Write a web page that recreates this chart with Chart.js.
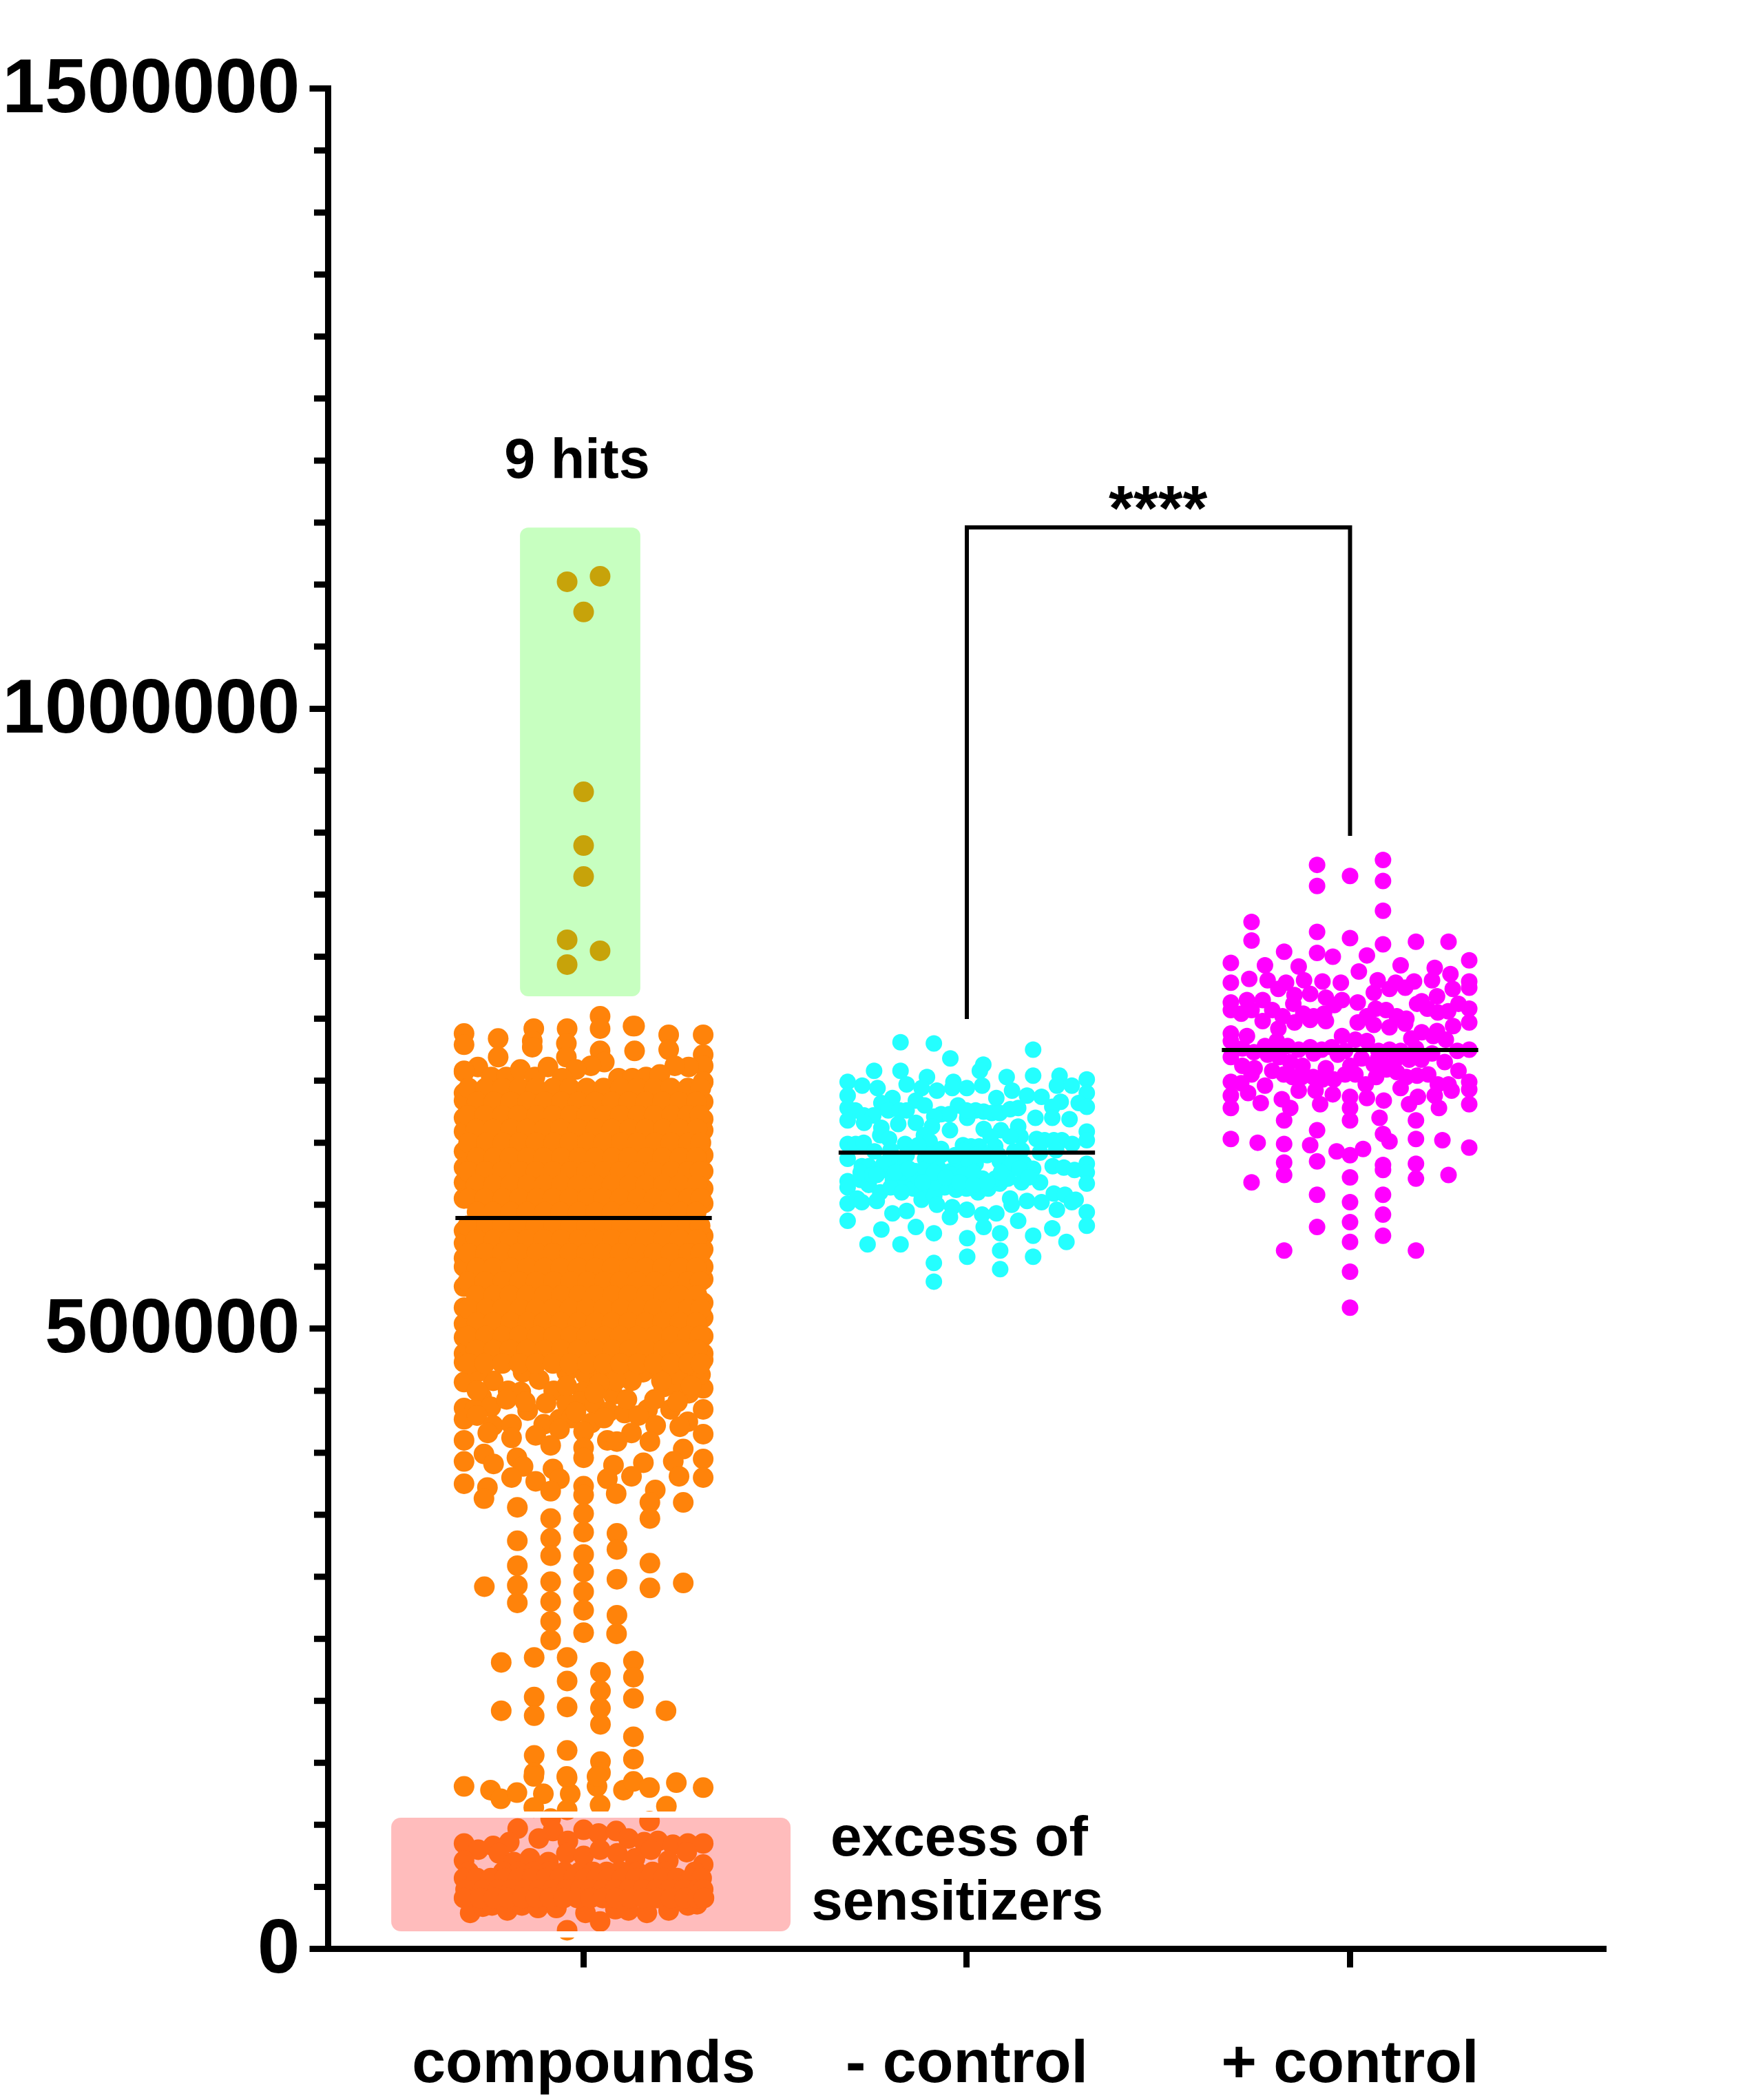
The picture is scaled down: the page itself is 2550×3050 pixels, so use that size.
<!DOCTYPE html>
<html>
<head>
<meta charset="utf-8">
<style>
  html, body { margin: 0; padding: 0; background: #ffffff; }
  canvas { display: block; }
</style>
<script src="https://cdn.jsdelivr.net/npm/chart.js@4/dist/chart.umd.min.js"></script>
</head>
<body>
<canvas id="chart" width="2550" height="3050"></canvas>
<script>
const categories = ['compounds', '- control', '+ control'];
const yTicks = [0, 500000, 1000000, 1500000];
const minorTicks = [50000, 100000, 150000, 200000, 250000, 300000, 350000, 400000, 450000, 550000, 600000, 650000, 700000, 750000, 800000, 850000, 900000, 950000, 1050000, 1100000, 1150000, 1200000, 1250000, 1300000, 1350000, 1400000, 1450000];
const means = [589300, 642000, 724700];
const bracketValues = [749700, 1146100, 1146100, 897400];

// swarm offsets are in thousandths of a category step
const hitOffsets = [-43, 43, 0, 0, 0, 0, -43, -43, 43];
const hitValues = [1102300, 1106700, 1077900, 932900, 889600, 864600, 813600, 793600, 804700];

const compoundOffsets = [
  -312,-312,-223,-223,-130,-134,-134,-43,-45,-45,43,43,43,54,19,129,133,133,222,222,312,312,312,274,238,-312,-276,-241,-202,-165,-127,-93,-20,-56,91,127,163,199,312,
  -312,-312,-312,-312,-312,-312,-312,-312,-312,-312,-312,-312,-312,-312,-312,-312,-312,
  312,312,312,312,312,312,312,312,312,312,312,312,312,312,312,
  -312,-312,312,312,-312,-236,312,-158,-116,-44,5,53,100,197,281,155,-266,-197,-164,-78,-2,77,209,245,275,-8,-312,-284,-242,-201,-146,-98,-44,29,65,107,167,227,-312,-278,-236,-188,-104,-63,-32,20,143,188,312,272,251,
  -250,-188,-125,-63,0,125,312,-312,-86,62,87,173,0,260,-260,-312,-174,-235,0,-158,-80,78,156,234,312,-188,-125,-63,62,125,249,312,-312,-251,-86,0,0,85,187,-260,173,260,-173,0,-86,173,0,87,-173,-86,87,-86,0,173,-173,0,87,-86,-259,-173,173,260,0,-86,-173,0,87,-86,
  -86,0,86,-215,-129,-43,44,130,130,-43,44,130,-129,-215,-129,-43,44,215,44,130,-129,-43,44,-129,-43,44,130,
  -312,-243,-216,-174,-105,-130,-35,-44,35,43,-130,-43,35,104,130,172,242,312,216,-86,172,
  -172,-312,-275,-236,-194,-117,-80,-41,0,39,85,117,158,194,233,272,312,-312,-221,-182,-140,-92,-45,0,43,88,134,176,269,221,200,86,312,
  -296,-263,-239,-199,-161,-119,-71,5,43,83,117,165,222,272,296,-43,
  -278,245,305,125,83,41,-44,203,281,245,185,113,29,-278,-152,53,-20
];
const compoundValues = [
  738000,729000,734000,719000,742000,732000,727000,742000,730000,719000,752000,742000,724000,715000,712000,744000,744000,724000,737000,725000,737000,721000,712000,711000,712000,707000,711000,703000,703000,709000,703000,711000,709000,702000,702000,702000,703000,705000,699000,
  708000,690000,684000,670000,659000,643000,630000,618000,605000,579000,569000,557000,550000,534000,517000,504000,493000,
  699000,683000,669000,660000,640000,627000,613000,601000,575000,564000,550000,540000,521000,509000,494000,
  480000,473000,480000,475000,457000,458000,452000,465000,459000,465000,463000,465000,467000,465000,465000,465000,445000,450000,449000,450000,449000,447000,453000,452000,448000,441000,436000,435000,437000,443000,434000,440000,440000,439000,433000,432000,435000,435000,427000,430000,422000,423000,423000,427000,428000,424000,430000,422000,435000,425000,421000,
  416000,412000,414000,419000,417000,416000,415000,410000,406000,410000,409000,409000,404000,403000,399000,393000,396000,391000,396000,389000,387000,390000,392000,393000,395000,380000,377000,379000,379000,381000,381000,380000,375000,372000,369000,373000,366000,367000,370000,363000,360000,360000,356000,351000,347000,347000,336000,335000,329000,331000,322000,317000,318000,311000,309000,304000,298000,296000,292000,293000,291000,295000,288000,280000,279000,273000,269000,264000,
  249000,255000,254000,231000,235000,235000,223000,232000,219000,216000,208000,202000,203000,192000,188000,195000,194000,192000,181000,171000,156000,160000,151000,142000,138000,142000,153000,
  131000,128000,121000,126000,125000,139000,125000,139000,131000,116000,114000,112000,139000,128000,135000,130000,134000,130000,115000,105000,103000,
  97000,85000,80000,83000,86000,89000,95000,87000,96000,93000,95000,89000,86000,87000,84000,85000,85000,71000,77000,70000,73000,70000,77000,75000,80000,77000,73000,80000,78000,71000,61000,61000,68000,
  29000,34000,35000,31000,35000,33000,33000,29000,22000,32000,31000,29000,31000,35000,36000,15000,
  465000,463000,463000,458000,458000,456000,454000,458000,454000,441000,443000,443000,448000,450000,441000,428000,433000
];

// the solid parts of the compounds swarm, row by row
const compoundRowValues = [694000,683000,672000,661000,650000,638000,627000,616000,605000,594000,583000,572000,561000,549000,538000,527000,516000,505000,494000,483000,472000,62000,57000,48000,41000];
const compoundRowOffsets = [
  [-300,-256,-212,-168,-124,-80,-36,8,52,96,140,184,228,272,306],
  [-278,-234,-190,-146,-102,-58,-14,30,74,118,162,206,250,294],
  [-302,-258,-212,-170,-122,-80,-34,8,54,96,142,184,230,272,304],
  [-280,-236,-190,-148,-102,-60,-14,32,74,120,162,208,250,296],
  [-300,-254,-210,-168,-124,-78,-36,10,52,98,140,186,228,274,306],
  [-278,-234,-192,-146,-104,-58,-12,30,76,118,164,206,252,294],
  [-302,-256,-212,-166,-124,-80,-34,8,54,96,140,184,230,272,304],
  [-280,-234,-190,-146,-102,-58,-14,30,74,120,162,208,250,296],
  [-300,-258,-210,-168,-122,-80,-36,10,52,96,142,184,228,274,306],
  [-278,-236,-190,-148,-102,-60,-14,32,74,118,164,206,252,294],
  [-302,-254,-212,-168,-124,-78,-34,8,54,98,140,186,230,272,304],
  [-280,-234,-192,-146,-104,-58,-12,30,76,118,162,208,250,296],
  [-300,-256,-212,-170,-122,-80,-36,8,52,96,142,184,228,274,306],
  [-278,-236,-190,-146,-102,-60,-14,32,74,120,162,206,252,294],
  [-302,-258,-210,-168,-124,-78,-34,10,54,96,140,186,230,272,304],
  [-280,-234,-192,-148,-102,-58,-12,30,76,118,164,208,250,296],
  [-300,-254,-212,-166,-124,-80,-36,8,52,98,142,184,228,274,306],
  [-278,-236,-190,-146,-104,-60,-14,32,74,118,162,206,252,294],
  [-302,-256,-210,-168,-122,-78,-34,8,54,96,140,186,230,272,304],
  [-280,-234,-192,-148,-102,-58,-14,30,76,120,164,208,250,296],
  [-300,-258,-212,-168,-124,-80,-36,10,52,96,142,184,228,274,306],
  [-300,-210,-170,-130,-90,-50,-10,25,60,100,140,180,215,290],
  [-312,-278,-242,-206,-170,-134,-98,-62,-26,4,34,64,100,136,172,208,244,280,308],
  [-308,-262,-224,-188,-152,-116,-80,-44,-8,20,50,82,118,154,190,226,262,298,312],
  [-312,-270,-234,-198,-160,-124,-88,-52,-16,18,50,84,120,156,192,228,264,296,314]
];

const negControlOffsets = [
  -173,-86,-43,173,43,34,-242,-173,-104,-35,104,173,242,313,-311,-273,-233,-157,-118,-78,-38,0,40,118,235,274,313,-311,-194,77,157,195,245,-133,-223,-311,-291,-110,-23,292,313,223,23,44,65,86,113,134,-205,-175,-157,-268,-244,-67,-46,-85,1,-1,179,223,268,-311,-268,-179,-133,-223,44,134,-44,89,313,-91,-226,-203,-112,62,140,113,182,203,227,248,275,313,-311,-290,-269,-241,-161,-97,-67,-10,11,32,74,124,191,233,
  -311,-274,-256,-223,-175,-133,-103,-73,-43,-13,23,86,113,161,224,253,281,313,313,-311,-311,-277,-256,-193,-163,-139,-115,-58,-28,-1,29,56,86,74,41,11,107,143,191,227,256,284,313,113,157,195,-226,-199,-170,-311,-286,-274,-235,-118,-85,-78,-38,-44,0,40,77,274,235,117,-194,-157,-311,-223,-133,-86,44,134,223,313,313,87,1,173,-259,-173,260,87,1,173,-86,87,-86,
  -67,-31,5,53,-199,-157,-109,-79,-37,-7,17,149,173,-277,-247,-199,-169,-127,-85,89,
  -109,-85,-55,-19,17,53,137,161,-217,-187,-151,-115,-235,-97,-31,-7,23,83,143,-127,-199
];
const negControlValues = [
  731000,730000,718000,725000,713000,708000,708000,708000,703000,699000,703000,704000,704000,701000,699000,696000,694000,697000,694000,692000,694000,694000,696000,692000,696000,696000,690000,688000,686000,686000,688000,687000,683000,684000,682000,678000,676000,680000,680000,682000,679000,679000,676000,675000,674000,674000,677000,678000,676000,676000,676000,672000,672000,673000,673000,671000,670000,676000,670000,670000,669000,668000,666000,665000,666000,662000,661000,663000,660000,660000,659000,663000,656000,653000,656000,655000,655000,655000,653000,652000,652000,652000,649000,652000,649000,649000,650000,643000,649000,651000,645000,648000,647000,647000,647000,643000,642000,644000,
  637000,631000,631000,628000,633000,627000,624000,629000,627000,631000,633000,635000,633000,627000,631000,630000,628000,633000,626000,619000,614000,620000,616000,620000,618000,613000,611000,614000,612000,613000,610000,613000,617000,621000,621000,620000,621000,618000,618000,609000,608000,604000,617000,605000,603000,602000,610000,614000,610000,601000,605000,602000,603000,604000,607000,600000,598000,590000,596000,592000,593000,602000,596000,600000,593000,595000,587000,580000,582000,577000,582000,587000,581000,594000,583000,577000,573000,575000,568000,568000,570000,563000,558000,558000,553000,548000,538000,
  640000,638000,635000,640000,639000,640000,637000,635000,624000,624000,626000,633000,629000,626000,624000,626000,626000,622000,618000,626000,
  629000,626000,622000,618000,616000,618000,629000,622000,633000,626000,629000,618000,624000,640000,640000,644000,640000,640000,644000,648000,644000
];

const posControlOffsets = [
  -86,0,86,-86,86,86,-257,-257,-86,0,86,172,257,-172,-86,-45,44,-311,-222,-134,23,132,221,311,262,-311,-263,-215,-167,-120,-72,-24,72,119,167,214,311,311,-187,-145,-104,62,103,144,268,-63,227,-311,-269,-228,-148,-21,20,-41,175,187,283,-311,-284,-257,-203,-176,-122,-95,-68,67,94,122,147,202,229,256,311,
  -228,-145,-104,-63,20,44,62,103,144,311,-187,269,187,227,-311,-269,-21,-311,-191,14,44,160,250,217,-281,-251,-222,-215,-163,-134,-104,-95,-74,-48,-32,-13,74,103,132,172,214,280,311,-311,-185,30,72,122,154,186,247,-281,-249,-156,-124,-63,1,62,89,-203,283,-173,-150,-126,14,-13,-96,-72,-42,95,122,147,175,204,68,-257,
  -311,-284,-222,-134,-90,41,132,229,257,265,311,311,-311,-266,-45,44,177,221,0,-178,88,-78,-233,154,-311,-156,0,232,311,77,-172,0,172,-86,86,-311,103,-172,-241,172,241,-104,-35,34,311,0,-86,-172,86,172,-172,86,257,172,0,-257,86,-86,0,86,0,-86,86,0,-172,172,0,0
];
const posControlValues = [
  874000,865000,878000,857000,861000,837000,828000,813000,820000,815000,810000,812000,812000,804000,803000,800000,801000,795000,793000,792000,788000,793000,791000,797000,786000,779000,782000,781000,779000,781000,780000,779000,781000,779000,780000,781000,780000,775000,774000,769000,770000,771000,774000,775000,774000,767000,768000,763000,765000,765000,762000,765000,763000,761000,762000,764000,762000,757000,754000,757000,757000,752000,754000,752000,754000,758000,757000,752000,750000,758000,755000,756000,758000,
  748000,747000,749000,748000,747000,752000,745000,743000,746000,747000,742000,744000,739000,740000,738000,736000,736000,732000,732000,733000,732000,734000,733000,736000,726000,723000,728000,721000,728000,725000,727000,722000,725000,727000,721000,724000,724000,725000,724000,726000,722000,724000,725000,719000,719000,718000,717000,718000,717000,717000,715000,712000,710000,715000,712000,710000,712000,713000,713000,708000,708000,705000,703000,703000,705000,705000,703000,701000,701000,709000,707000,703000,704000,705000,703000,705000,
  699000,698000,696000,692000,692000,697000,694000,697000,697000,692000,699000,693000,688000,690000,689000,686000,687000,688000,687000,685000,684000,681000,682000,681000,678000,678000,678000,678000,681000,670000,668000,668000,668000,660000,657000,653000,651000,649000,650000,653000,652000,648000,643000,645000,646000,640000,635000,634000,632000,633000,624000,628000,624000,621000,622000,618000,608000,608000,602000,592000,586000,582000,575000,570000,563000,563000,546000,517000
];

// shaded boxes, in axis units
const hitBox = { x0: 0.834, x1: 1.148, y0: 768000, y1: 1146000 };
const sensitizerBox = { x0: 0.498, x1: 1.54, y0: 14150, y1: 105750 };
const noteTexts = ['9 hits', 'excess of', 'sensitizers', '****'];
const noteX = [0.983, 1.98, 1.975, 2.499];
const noteY = [1186100, 75200, 23600, 1143900];

const FONT = '"Liberation Sans", Arial, sans-serif';
const ORANGE = '#ff830a';
const CYAN = '#24ffff';
const MAGENTA = '#ff00ff';

function swarm(center, offsets, values) {
  return values.map((v, i) => ({ x: center + offsets[i] / 1000, y: v }));
}

function compoundPoints() {
  let pts = swarm(1, hitOffsets, hitValues);
  pts = pts.concat(swarm(1, compoundOffsets, compoundValues));
  compoundRowValues.forEach((v, i) => {
    compoundRowOffsets[i].forEach(off => pts.push({ x: 1 + off / 1000, y: v }));
  });
  return pts;
}

function dotSet(data, color, radius) {
  return {
    data: data,
    backgroundColor: color,
    pointRadius: radius,
    pointBorderWidth: 0,
    pointHoverRadius: radius,
    showLine: false,
    order: 5
  };
}

function lineSet(data) {
  return {
    data: data,
    borderColor: '#000000',
    borderWidth: 6,
    pointRadius: 0,
    showLine: true,
    tension: 0,
    borderJoinStyle: 'miter',
    order: 1
  };
}

const meanLines = means.map((m, i) => lineSet([{ x: i + 1 - 0.3345, y: m }, { x: i + 1 + 0.3345, y: m }]));
const bracketX = [2, 2, 3, 3];
const bracket = lineSet(bracketValues.map((v, i) => ({ x: bracketX[i], y: v })));

function box(ctx, sx, sy, b, fill, radius, halo) {
  const left = sx.getPixelForValue(b.x0);
  const right = sx.getPixelForValue(b.x1);
  const top = sy.getPixelForValue(b.y1);
  const bottom = sy.getPixelForValue(b.y0);
  ctx.beginPath();
  ctx.roundRect(left - halo, top - halo, right - left + 2 * halo, bottom - top + 2 * halo, radius + halo);
  ctx.roundRect(left, top, right - left, bottom - top, radius);
  ctx.fillStyle = '#ffffff';
  ctx.fill('evenodd');
  ctx.beginPath();
  ctx.roundRect(left, top, right - left, bottom - top, radius);
  ctx.fillStyle = fill;
  ctx.fill();
}

const noteSizes = [81, 82, 82, 92];

const overlayPlugin = {
  id: 'overlay',
  afterDatasetsDraw(chart) {
    const ctx = chart.ctx;
    const sx = chart.scales.x;
    const sy = chart.scales.y;
    ctx.save();
    box(ctx, sx, sy, hitBox, 'rgba(40,255,10,0.26)', 12, 9);
    box(ctx, sx, sy, sensitizerBox, 'rgba(255,46,46,0.32)', 14, 9);
    ctx.fillStyle = '#000000';
    ctx.textAlign = 'center';
    ctx.textBaseline = 'alphabetic';
    noteTexts.forEach((t, i) => {
      ctx.font = 'bold ' + noteSizes[i] + 'px ' + FONT;
      ctx.fillText(t, sx.getPixelForValue(noteX[i]), sy.getPixelForValue(noteY[i]));
    });
    ctx.restore();
  },
  afterDraw(chart) {
    // short ticks between the labelled ones, and square ends on the y axis line
    const ctx = chart.ctx;
    const sy = chart.scales.y;
    const area = chart.chartArea;
    ctx.save();
    ctx.strokeStyle = '#000000';
    ctx.lineWidth = 9;
    ctx.beginPath();
    ctx.moveTo(area.left, area.top - 4.5);
    ctx.lineTo(area.left, area.bottom + 4.5);
    minorTicks.forEach(v => {
      const py = sy.getPixelForValue(v);
      ctx.moveTo(area.left, py);
      ctx.lineTo(area.left - 20.5, py);
    });
    ctx.stroke();
    ctx.restore();
  }
};

new Chart(document.getElementById('chart'), {
  type: 'scatter',
  data: {
    datasets: [
      dotSet(compoundPoints(), ORANGE, 15),
      dotSet(swarm(2, negControlOffsets, negControlValues), CYAN, 12),
      dotSet(swarm(3, posControlOffsets, posControlValues), MAGENTA, 12),
      ...meanLines,
      bracket
    ]
  },
  options: {
    responsive: false,
    devicePixelRatio: 1,
    animation: false,
    layout: { padding: { top: 128.5, right: 218, left: 0, bottom: 0 } },
    plugins: { legend: { display: false }, tooltip: { enabled: false } },
    scales: {
      x: {
        type: 'linear',
        min: 1 / 3,
        max: 3.6676,
        afterFit: scale => { scale.height = 3050 - 2830.5; },
        afterBuildTicks: scale => { scale.ticks = categories.map((c, i) => ({ value: i + 1 })); },
        border: { color: '#000000', width: 9 },
        grid: { drawOnChartArea: false, color: '#000000', tickColor: '#000000', tickWidth: 9, tickLength: 27 },
        ticks: {
          autoSkip: false,
          maxRotation: 0,
          color: '#000000',
          padding: 89,
          font: { family: FONT, size: 88, weight: 'bold' },
          callback: value => categories[value - 1]
        }
      },
      y: {
        min: 0,
        max: 1500000,
        afterFit: scale => { scale.width = 476.5; },
        afterBuildTicks: scale => { scale.ticks = yTicks.map(v => ({ value: v })); },
        border: { color: '#000000', width: 9 },
        grid: { drawOnChartArea: false, color: '#000000', tickColor: '#000000', tickWidth: 9, tickLength: 27 },
        ticks: {
          color: '#000000',
          padding: 14,
          labelOffset: 4,
          font: { family: FONT, size: 111, weight: 'bold' },
          callback: value => String(value)
        }
      }
    }
  },
  plugins: [overlayPlugin]
});
</script>
</body>
</html>
